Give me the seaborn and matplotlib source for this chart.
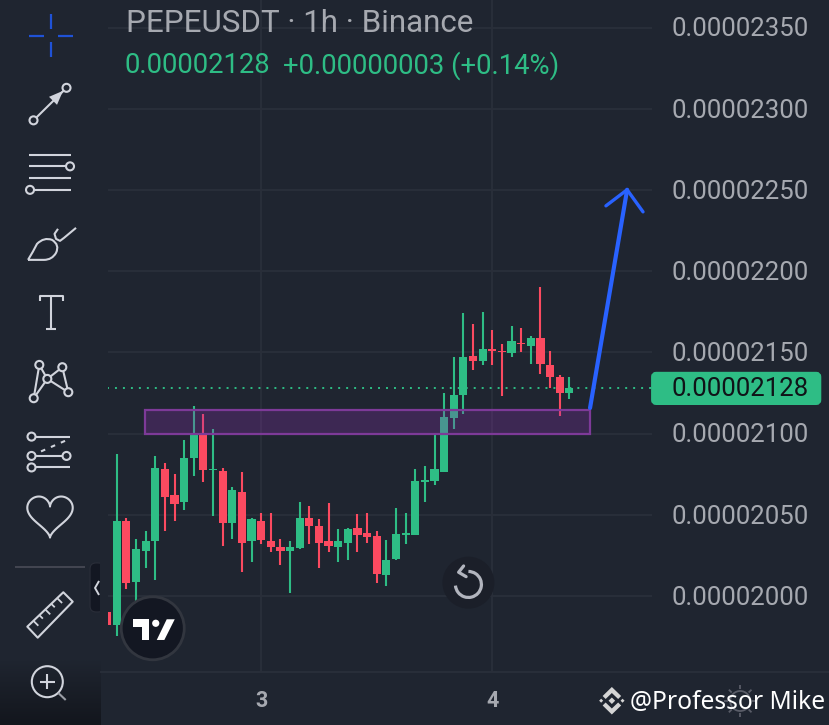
import matplotlib
matplotlib.use("Agg")
import numpy as np
import pandas as pd
import seaborn as sns
import matplotlib.pyplot as plt
from matplotlib.patches import Rectangle, Circle, Polygon, FancyBboxPatch, Arc, PathPatch
from matplotlib.path import Path
from matplotlib.transforms import ScaledTranslation

# ---- data (prices in units of 1e-8) ----
hour_index = list(range(-1, 48))
open_ = [1990.3, 1981.9, 2046.2, 2008.8, 2027.9, 2033.9, 2078.0, 2062.0, 2057.7, 2085.0, 2099.0, 2077.4, 2077.0,
         2044.7, 2064.3, 2033.9, 2046.2, 2034.1, 2030.2, 2028.0, 2029.8, 2048.1, 2043.2, 2034.1, 2030.0, 2032.7,
         2041.9, 2038.9, 2037.0, 2013.0, 2022.6, 2037.4, 2037.8, 2070.2, 2070.7, 2076.6, 2109.9, 2123.6, 2148.1,
         2144.8, 2152.0, 2151.0, 2149.9, 2156.1, 2153.8, 2159.0, 2142.1, 2134.9, 2124.9]
close = [1982.1, 2046.2, 2007.8, 2028.9, 2034.1, 2078.8, 2060.8, 2056.9, 2085.2, 2099.0, 2077.8, 2078.2, 2044.7,
         2065.1, 2032.6, 2047.2, 2034.7, 2030.0, 2028.0, 2030.2, 2048.1, 2043.2, 2032.7, 2030.6, 2034.1, 2041.3,
         2037.6, 2036.6, 2013.6, 2022.2, 2038.2, 2038.7, 2070.9, 2071.5, 2078.0, 2110.1, 2124.0, 2147.1, 2144.6,
         2152.2, 2150.7, 2150.1, 2156.9, 2154.9, 2158.8, 2142.7, 2134.9, 2124.9, 2128.2]
high = [1990.3, 2087.3, 2047.8, 2035.1, 2040.0, 2086.0, 2081.7, 2075.1, 2095.9, 2117.0, 2112.1, 2103.1, 2078.6,
        2066.9, 2076.2, 2048.0, 2051.1, 2051.1, 2035.2, 2034.1, 2058.0, 2055.5, 2047.3, 2057.1, 2041.3, 2042.1,
        2050.2, 2051.0, 2040.1, 2034.3, 2054.1, 2051.2, 2078.3, 2080.1, 2099.2, 2125.3, 2147.1, 2174.2, 2167.4,
        2175.2, 2163.9, 2155.1, 2166.2, 2165.3, 2160.0, 2190.4, 2151.0, 2136.2, 2135.1]
low = [1982.1, 1975.3, 2004.1, 1995.5, 2017.0, 2009.8, 2040.0, 2046.2, 2053.0, 2074.1, 2070.2, 2049.3, 2031.0,
       2034.9, 2015.0, 2020.9, 2032.0, 2026.9, 2019.1, 2002.1, 2029.0, 2032.1, 2017.3, 2026.9, 2021.2, 2022.2,
       2027.2, 2032.9, 2008.1, 2006.0, 2022.2, 2032.1, 2037.8, 2057.9, 2068.4, 2076.6, 2103.1, 2112.3, 2139.2,
       2142.3, 2142.3, 2123.2, 2147.1, 2150.3, 2143.1, 2137.0, 2128.2, 2110.9, 2121.4]
price_ticks = [2000, 2050, 2100, 2150, 2200, 2250, 2300, 2350]
day_ticks = [15, 39]
day_labels = ["3", "4"]
last_price = 2128
zone_bottom, zone_top = 2099.8, 2114.6
zone_start, zone_end = 2.94, 49.15
arrow_x = [49.15, 53.0]
arrow_y = [2115.8, 2250.2]
head_x = [50.8, 53.0, 54.65]
head_y = [2240.3, 2250.2, 2236.6]

BG = "#1f2530"
GRID = "#2a2f3a"
GREEN = "#2ebd85"
RED = "#fb4a60"
TXT = "#a6a9b0"
ICON = "#d1d4dc"
W, H = 829, 725

sns.set_theme(style="dark", rc={"axes.facecolor": BG, "figure.facecolor": BG})
plt.rcParams["font.family"] = ["Roboto", "DejaVu Sans"]

df = pd.DataFrame({"i": hour_index, "o": open_, "c": close, "h": high, "l": low})
df["up"] = df["c"] >= df["o"]
df["color"] = np.where(df["up"], GREEN, RED)

fig = plt.figure(figsize=((W + 0.2) / 100, (H + 0.2) / 100), dpi=100)
ax = fig.add_axes([108 / W, 1 - 672 / H, (652 - 108) / W, 672 / H])
ax.set_axisbelow(True)
ax.grid(True, color=GRID, lw=1.3)

ax.vlines(df["i"], df["l"], df["h"], colors=df["color"], lw=1.5, zorder=3)
ax.bar(df["i"], np.maximum((df["c"] - df["o"]).abs(), 1.0), bottom=df[["o", "c"]].min(axis=1),
       width=0.85, color=df["color"], zorder=4, linewidth=0)

sns.lineplot(x=[-1, 56], y=[last_price, last_price], ax=ax, color=GREEN, lw=1.4,
             linestyle=(0, (1, 3.1)), zorder=2)
ax.add_patch(Rectangle((zone_start, zone_bottom), zone_end - zone_start, zone_top - zone_bottom,
                       facecolor="#8e33b0", alpha=0.28, edgecolor="none", zorder=5))
ax.add_patch(Rectangle((zone_start, zone_bottom), zone_end - zone_start, zone_top - zone_bottom,
                       facecolor="none", edgecolor="#7d3a98", lw=1.6, zorder=5))
sns.lineplot(x=arrow_x, y=arrow_y, ax=ax, color="#2962ff", lw=3, sort=False, estimator=None, zorder=6)
sns.lineplot(x=head_x, y=head_y, ax=ax, color="#2962ff", lw=2.4, sort=False, estimator=None, zorder=6)

ax.set_xlim(-0.903, 55.6)
ax.set_ylim(1953.2, 2367.2)
ax.set_yticks(price_ticks)
ax.set_yticklabels([f"{v * 1e-8:.8f}" for v in price_ticks])
ax.set_xticks(day_ticks)
ax.set_xticklabels(day_labels, fontweight="bold")
ax.yaxis.tick_right()
ax.tick_params(axis="y", length=0, pad=14, labelsize=18.5, labelcolor=TXT)
ax.tick_params(axis="x", length=0, pad=13, labelsize=15.5, labelcolor=TXT)
sns.despine(ax=ax, left=True, bottom=True, right=True, top=True)
nudge = ScaledTranslation(0, 1 / 100, fig.dpi_scale_trans)
for lab in ax.get_yticklabels():
    lab.set_transform(lab.get_transform() + nudge)

# ---- overlay in pixel space: chart UI furniture ----
ov = fig.add_axes([0, 0, 1, 1], facecolor="none")
ov.set_xlim(0, W)
ov.set_ylim(H, 0)
ov.axis("off")


def line(xs, ys, c=ICON, lw=1.5, **k):
    ov.plot(xs, ys, color=c, lw=lw, solid_capstyle=k.pop("cap", "butt"), solid_joinstyle="round", **k)


def ring(x, y, r=4, c=ICON, lw=1.5):
    ov.add_patch(Circle((x, y), r, facecolor=BG, edgecolor=c, lw=lw, zorder=5))


# bottom gradient on the tool strip
grad = np.linspace(0, 1, 64)[:, None]
rgb0, rgb1 = np.array([0x1f, 0x25, 0x30]) / 255, np.array([0x13, 0x16, 0x1d]) / 255
ov.imshow((rgb0 + (rgb1 - rgb0) * grad[..., None]), extent=(0, 100, 725, 661), aspect="auto", zorder=0)
ov.set_xlim(0, W)
ov.set_ylim(H, 0)
line([100, 829], [671.7, 671.7], c=GRID, lw=1.3)

# header text
ov.text(126, 23, "PEPEUSDT · 1h · Binance", color=TXT, fontsize=22.6, va="center", ha="left")
ov.text(124, 65.5, "0.00002128", color=GREEN, fontsize=19.8, va="center", ha="left")
ov.text(283, 65.5, "+0.00000003 (+0.14%)", color=GREEN, fontsize=19.8, va="center", ha="left")

# price tag
ov.add_patch(FancyBboxPatch((653, 374), 166, 29, boxstyle="round,pad=0,rounding_size=3",
                            facecolor=GREEN, edgecolor=GREEN, lw=3))
ov.text(740, 389, "0.00002128", color="#101318", fontsize=18.5, va="center", ha="center")

# crosshair
blue = "#1f52d6"
line([51, 51], [14, 29], c=blue, lw=1.6)
line([51, 51], [42, 57], c=blue, lw=1.6)
line([29, 44], [36, 36], c=blue, lw=1.6)
line([58, 73], [36, 36], c=blue, lw=1.6)
# trend arrow
line([33.5, 66.5], [120.5, 88])
ov.add_patch(Polygon([(63, 91), (49, 97), (57, 105)], color=ICON, lw=0, zorder=4))
ring(33.5, 120.5)
ring(66.5, 88)
# fib lines
line([29, 71], [155, 155])
line([29, 66], [166.5, 166.5])
ring(70, 166.5)
line([29, 71], [178, 178])
line([34, 71], [190, 190])
ring(30, 190)
# brush
ov.add_patch(PathPatch(Path([(28, 260), (33, 252), (37, 244), (44, 237), (52, 240), (60, 245), (56, 253),
                             (52, 260), (44, 260), (28, 260)],
                            [Path.MOVETO, Path.CURVE3, Path.CURVE3, Path.CURVE3, Path.CURVE3, Path.CURVE3,
                             Path.CURVE3, Path.CURVE3, Path.CURVE3, Path.LINETO]),
                       facecolor="none", edgecolor=ICON, lw=1.5))
line([58, 54.5, 56, 60, 64, 76], [229, 234, 239, 241, 238, 228])
# text tool
line([39.5, 39.5, 62.5, 62.5], [301, 296, 296, 301])
line([51, 51], [296, 329])
line([46, 56], [329, 329])
# network
pts = {"a": (39.3, 365), "b": (62.3, 367.3), "c": (47.3, 379), "d": (33.7, 398.3), "e": (68.3, 392.3)}
for p, q in ["da", "ac", "cb", "be", "ce", "dc"]:
    line([pts[p][0], pts[q][0]], [pts[p][1], pts[q][1]])
for p in pts.values():
    ring(*p)
# forecast
line([31, 70], [436.7, 436.7])
ring(31.5, 436.7)
line([41, 66], [451.5, 440.5], lw=1.5, linestyle=(0, (2.2, 3)))
line([31, 66], [456, 456])
ring(31.5, 456)
ring(66.5, 456)
line([31, 70], [467.5, 467.5])
ring(31.5, 467.5)
# heart
t = np.linspace(0, 2 * np.pi, 120)
hx = 16 * np.sin(t) ** 3
hy = -(13 * np.cos(t) - 5 * np.cos(2 * t) - 2 * np.cos(3 * t) - np.cos(4 * t))
ov.plot(50 + hx * 1.42, 513.5 + hy * 1.42, color=ICON, lw=1.5)
# separator
line([15, 85], [567.5, 567.5], c="#434651", lw=1.4)
# collapse tab
ov.add_patch(FancyBboxPatch((90, 563), 14, 49, boxstyle="round,pad=0,rounding_size=6",
                            facecolor="#131722", edgecolor="#2a2e39", lw=0.8))
ov.add_patch(Rectangle((100, 555), 5, 65, facecolor=BG, edgecolor="none", zorder=2))
line([99, 95, 99], [581, 588, 595], c=ICON, lw=1.4, zorder=3)
# ruler
ov.add_patch(Polygon([(27.3, 626.7), (63.3, 592.3), (72.7, 601.7), (37.7, 637.7)], closed=True,
                     facecolor="none", edgecolor=ICON, lw=1.5, joinstyle="round"))
a, b = np.array([27.3, 626.7]), np.array([63.3, 592.3])
n = np.array([0.7, 0.7])
for k, f in enumerate(np.linspace(0.17, 0.83, 5)):
    s = a + (b - a) * f
    e = s + n * (7 if k % 2 == 0 else 5)
    line([s[0], e[0]], [s[1], e[1]], lw=1.3)
# zoom
ov.add_patch(Circle((47.3, 681.7), 15.5, facecolor="none", edgecolor=ICON, lw=1.5))
line([40, 54.5], [681.7, 681.7])
line([47.3, 47.3], [674.5, 689])
line([58.3, 65.7], [693, 700], c="#9a9da5")

# TradingView badge
ov.add_patch(Circle((152.7, 628.3), 31.5, facecolor="#131722", edgecolor="#32363f", lw=2, zorder=8))
ov.add_patch(Polygon([(132.7, 619.3), (149, 619.3), (149, 640), (141.7, 640), (141.7, 626.7), (132.7, 626.7)],
                     color="white", lw=0, zorder=9))
ov.add_patch(Circle((155.7, 623.3), 3.6, color="white", lw=0, zorder=9))
ov.add_patch(Polygon([(166.7, 619.3), (174.7, 619.3), (164.3, 640), (156.7, 640)], color="white", lw=0, zorder=9))

# reset button
ov.add_patch(Circle((468.3, 582.7), 26, facecolor="#1b1f29", edgecolor="none", zorder=8))
ov.add_patch(Arc((468.3, 584.5), 26, 26, theta1=-90, theta2=175, color="#b2b5be", lw=2.3, zorder=9))
ov.plot([463.5, 458.5, 466], [566, 572.3, 576.7], color="#b2b5be", lw=2.3, zorder=9, solid_joinstyle="round")

# sun icon
for ang in np.arange(0, 360, 45):
    c, s = np.cos(np.radians(ang)), np.sin(np.radians(ang))
    line([740 + 12 * c, 740 + 16 * c], [701 + 12 * s, 701 + 16 * s], c="#5a5d68", lw=1.3)
ov.add_patch(Circle((740, 701), 10, facecolor="none", edgecolor="#5a5d68", lw=1.3))

# watermark
ov.text(630, 702, "@Professor Mike", color="white", fontsize=17.7, family="Noto Sans", va="center", ha="left",
        zorder=10)
wm = "#d5d5d5"
for poly in ([(611.7, 687), (621, 696), (618, 699), (611.7, 693), (605.5, 699), (602.5, 696)],
             [(611.7, 714.5), (621, 705.5), (618, 702.5), (611.7, 708.5), (605.5, 702.5), (602.5, 705.5)],
             [(611.7, 697.5), (615, 700.7), (611.7, 704), (608.4, 700.7)],
             [(601, 698.7), (603, 700.7), (601, 702.7), (599, 700.7)],
             [(622.4, 698.7), (624.4, 700.7), (622.4, 702.7), (620.4, 700.7)]):
    ov.add_patch(Polygon(poly, color=wm, lw=0, zorder=10))

fig.savefig("out.png", dpi=100, facecolor=BG)
